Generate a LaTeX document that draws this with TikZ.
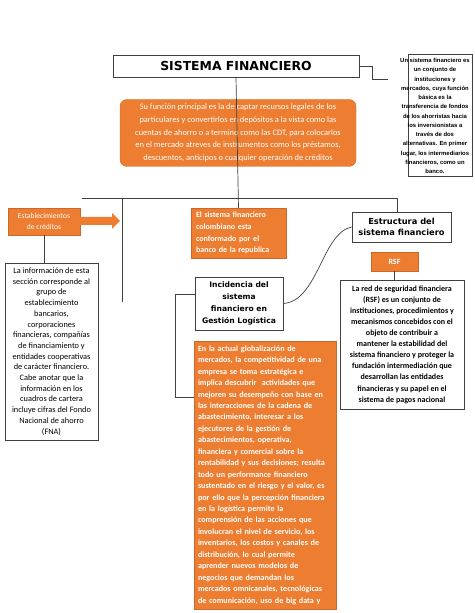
\documentclass[tikz,border=0pt]{standalone}
\usepackage{fontspec}
\setmainfont{Carlito}
\newfontfamily\verdana{DejaVu Sans}
\newfontfamily\arial{Liberation Sans}
\definecolor{naranja}{HTML}{ED7D31}
\definecolor{linea}{HTML}{404040}
\tikzset{
  caja/.style={draw=linea,line width=0.8pt,inner sep=0pt,align=center},
  cajanar/.style={fill=naranja,draw=naranja!85!black,line width=0.4pt,inner sep=0pt,text=white},
  conector/.style={draw=linea,line width=0.7pt},
}
\begin{document}
\begin{tikzpicture}[x=1pt,y=1pt]
	\useasboundingbox (0,0) rectangle (474,613);
	\node [coordinate] (BusL) at (82,415) {};
	\node [coordinate] (BusR) at (397,415) {};
	\node [coordinate] (Pata) at (122,311) {};
	\node [coordinate] (Codo) at (175,216) {};
	\node [coordinate] (Defi) at (388,534) {};
	% titulo y funcion
	\node (titulo) at (236,547) [caja,minimum width=246,minimum height=22,
	  font=\verdana\bfseries\fontsize{12.4}{14}\selectfont] {SISTEMA FINANCIERO};
	\node (funcion) at (238,480) [cajanar,rounded corners=7,minimum width=236,minimum height=67,
	  align=center,font=\fontsize{8.4}{12.7}\selectfont]
	  {Su función principal es la de captar recursos legales de los\\
	   particulares y convertirlos en depósitos a la vista como las\\
	   cuentas de ahorro o a termino como las CDT, para colocarlos\\
	   en el mercado atreves de instrumentos como los préstamos,\\
	   descuentos, anticipos o cualquier operación de créditos};
	\draw [line width=0.8pt,linea] (408,559) rectangle (472,437);
	\node (definicion) at (435,497) [align=center,inner sep=0pt,
	  font=\arial\bfseries\fontsize{5.9}{9.25}\selectfont]
	  {Un sistema financiero es\\ un conjunto de\\ instituciones y\\
	   mercados, cuya función\\ básica es la\\ transferencia de fondos\\
	   de los ahorristas hacia\\ los inversionistas a\\ través de dos\\
	   alternativas. En primer\\ lugar, los intermediarios\\
	   financieros, como un\\ banco.};
	% ramas
	\node (establec) at (44,391.5) [cajanar,minimum width=72,minimum height=27,align=center,
	  font=\fontsize{7.6}{10.5}\selectfont] {Establecimientos\\ de créditos};
	\fill [naranja] (establec.east |- 0,396) -- (112,396) -- (112,400) -- (120,392)
	  -- (112,384) -- (112,388) -- (establec.east |- 0,388) -- cycle;
	\node (info) at (51.5,261.5) [caja,minimum width=93,minimum height=177,
	  font=\fontsize{8.3}{10.7}\selectfont]
	  {La información de esta\\ sección corresponde al\\ grupo de\\ establecimiento\\
	   bancarios,\\ corporaciones\\ financieras, compañías\\ de financiamiento y\\
	   entidades cooperativas\\ de carácter financiero.\\ Cabe anotar que la\\
	   información en los\\ cuadros de cartera\\ incluye cifras del Fondo\\
	   Nacional de ahorro\\ (FNA)};
	\node (colombiano) at (238.5,380) [cajanar,minimum width=95,minimum height=50,
	  text width=85,align=left,font=\bfseries\fontsize{8}{11.7}\selectfont]
	  {El sistema financiero\\ colombiano esta\\ conformado por el\\ banco de la republica};
	\node (estructura) at (401.5,386) [caja,minimum width=99,minimum height=30,
	  font=\verdana\bfseries\fontsize{8.3}{11.5}\selectfont] {Estructura del\\ sistema financiero};
	\node (rsf) at (394.5,351.5) [cajanar,minimum width=47,minimum height=19,
	  font=\bfseries\fontsize{8}{10}\selectfont] {RSF};
	\node (rsftexto) at (402,268.5) [caja,minimum width=124,minimum height=129,
	  font=\bfseries\fontsize{8}{11.1}\selectfont]
	  {La red de seguridad financiera\\ (RSF) es un conjunto de\\
	   instituciones, procedimientos y\\ mecanismos concebidos con el\\
	   objeto de contribuir a\\ mantener la estabilidad del\\
	   sistema financiero y proteger la\\ fundación intermediación que\\
	   desarrollan las entidades\\ financieras y su papel en el\\
	   sistema de pagos nacional};
	\node (incidencia) at (239,309.5) [caja,minimum width=88,minimum height=53,
	  font=\verdana\bfseries\fontsize{7.6}{12}\selectfont]
	  {Incidencia del\\ sistema\\ financiero en\\ Gestión Logística};
	\node (logistica) at (265,138) [cajanar,minimum width=142,minimum height=268,
	  text width=134,align=left,font=\bfseries\fontsize{8.1}{11.45}\selectfont]
	  {En la actual globalización de\\ mercados, la competitividad de una\\
	   empresa se toma estratégica e\\ implica descubrir\ \ actividades que\\
	   mejoren su desempeño con base en\\ las interacciones de la cadena de\\
	   abastecimiento, interesar a los\\ ejecutores de la gestión de\\
	   abastecimientos, operativa,\\ financiera y comercial sobre la\\
	   rentabilidad y sus decisiones; resulta\\ todo un performance financiero\\
	   sustentado en el riesgo y el valor, es\\ por ello que la percepción financiera\\
	   en la logística permite la\\ comprensión de las acciones que\\
	   involucran el nivel de servicio, los\\ inventarios, los costos y canales de\\
	   distribución, lo cual permite\\ aprender nuevos modelos de\\
	   negocios que demandan los\\ mercados omnicanales, tecnológicas\\
	   de comunicación, uso de big data y};
	% conectores
	\draw [conector] (titulo.south) -- (colombiano.north);
	\draw [conector] (BusL) -- (BusR) -- (estructura.north -| BusR);
	\draw [conector] (Pata |- BusL) -- (Pata);
	\draw [conector] (titulo.east) -- ++(13,0) |- (Defi);
	\draw [conector] (establec.south) -- (info.north -| establec.south);
	\draw [conector] (rsf.south) -- (rsftexto.north -| rsf.south);
	\draw [conector] (estructura.west) .. controls (322,380) and (318,312) .. (incidencia.east);
	\draw [conector] (incidencia.west |- 0,319) -| (Codo) -- (logistica.west |- Codo);
\end{tikzpicture}
\end{document}
